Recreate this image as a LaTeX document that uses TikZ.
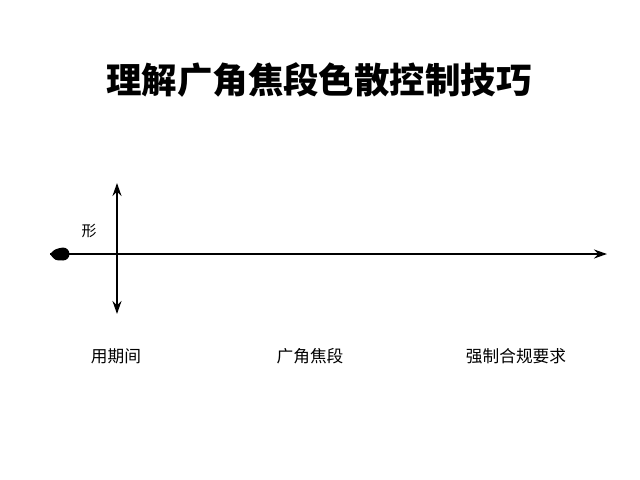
\documentclass[tikz,border=0pt]{standalone}
\usepackage{fontspec}
\newfontfamily\cjk{Noto Sans CJK SC}
\usetikzlibrary{arrows.meta,positioning}
\tikzset{
	>={Stealth[length=2.6mm,width=1.8mm]},
	axis/.style={line width=1.2pt},
	title/.style={font=\cjk\bfseries\fontsize{20.2}{24}\selectfont},
	label/.style={font=\cjk\fontsize{9.5}{12}\selectfont},
	mark label/.style={font=\cjk\fontsize{8.5}{10}\selectfont},
}

\begin{document}
\begin{tikzpicture}[x=0.02cm,y=-0.02cm]
		\useasboundingbox (0,0) rectangle (640,480);
		\node[title] (heading) at (319,80) {理解广角焦段色散控制技巧};

		\coordinate (start) at (50,254);
		\coordinate (end) at (607,254);
		\coordinate (top) at (117,183);
		\coordinate (bottom) at (117,314);

		\draw[axis,->] (start) -- (end);
		\draw[axis,<->] (bottom) -- (top);
		\fill (start) .. controls +(5,-5) .. +(13,-6.5) arc[start angle=-90,end angle=90,radius=6.5] .. controls +(-8,0) .. (start);

		\node[mark label] (shape) at (89,231) {形};
		\node[label] (period) at (116,356) {用期间};
		\node[label] (wide) at (310,356) {广角焦段};
		\node[label] (rules) at (516,356) {强制合规要求};
	\end{tikzpicture}
\end{document}
